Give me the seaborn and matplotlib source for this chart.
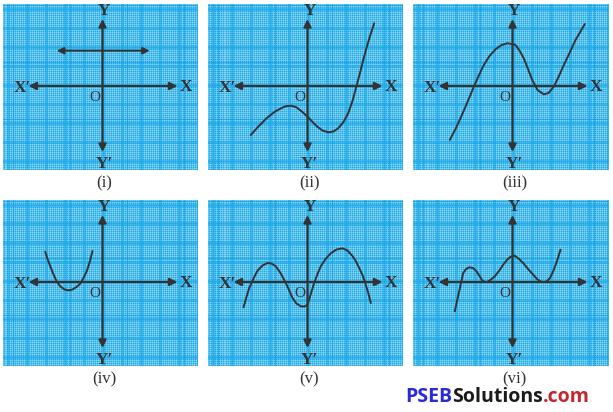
import numpy as np
import matplotlib
matplotlib.use("Agg")
import matplotlib.pyplot as plt
import seaborn as sns

# curve points (units: 10 px, origin where the axes cross)
ii_x = [-5.67, -4.93, -4.1, -3.27, -2.6, -2.1, -1.6, -1.1, -0.5, 0.0, 0.9, 1.5, 2.07, 2.6, 3.07, 3.6, 4.07, 4.5, 4.9, 5.25, 5.57, 5.9, 6.23, 6.67]
ii_y = [-4.9, -4.07, -3.23, -2.57, -2.2, -2.0, -1.98, -2.13, -2.6, -3.07, -4.0, -4.45, -4.63, -4.55, -4.23, -3.6, -2.73, -1.5, 0.0, 1.3, 2.6, 3.8, 4.93, 6.27]

iii_x = [-6.27, -5.7, -5.2, -4.5, -3.87, -3.3, -2.87, -2.3, -1.7, -1.1, -0.53, 0.0, 0.3, 0.7, 1.13, 1.55, 1.97, 2.5, 3.13, 3.6, 4.13, 4.6, 5.13, 5.7, 6.3, 7.23]
iii_y = [-5.4, -4.3, -3.23, -1.6, -0.07, 1.2, 2.1, 3.0, 3.67, 4.1, 4.27, 4.2, 4.1, 3.55, 2.77, 1.7, 0.6, -0.4, -0.83, -0.7, -0.07, 0.9, 2.1, 3.3, 4.6, 6.2]

iv_x = [-5.73, -5.5, -5.23, -4.9, -4.57, -4.2, -3.8, -3.4, -3.0, -2.6, -2.23, -1.9, -1.57, -1.25, -1.0]
iv_y = [3.03, 2.3, 1.6, 0.75, 0.03, -0.45, -0.75, -0.83, -0.75, -0.5, -0.17, 0.4, 1.1, 2.1, 3.1]

v_x = [-6.4, -6.1, -5.83, -5.4, -5.0, -4.5, -4.0, -3.6, -3.17, -2.7, -2.17, -1.8, -1.5, -1.1, -0.67, -0.3, 0.0, 0.3, 0.67, 1.0, 1.33, 1.8, 2.33, 2.9, 3.5, 4.0, 4.5, 4.85, 5.17, 5.5, 5.77, 6.05, 6.33]
v_y = [-2.53, -1.5, -0.6, 0.35, 1.13, 1.65, 1.9, 1.85, 1.57, 0.9, -0.1, -0.9, -1.6, -2.15, -2.43, -2.45, -2.27, -1.3, -0.1, 0.8, 1.57, 2.3, 2.87, 3.25, 3.37, 3.15, 2.6, 2.05, 1.4, 0.7, -0.1, -1.0, -2.1]

vi_x = [-5.77, -5.55, -5.33, -5.13, -4.93, -4.65, -4.33, -3.95, -3.6, -3.3, -3.0, -2.75, -2.53, -2.15, -1.77, -1.35, -0.93, -0.6, -0.27, 0.0, 0.23, 0.65, 1.07, 1.55, 2.07, 2.45, 2.8, 3.1, 3.4, 3.75, 4.07, 4.45, 4.8]
vi_y = [-2.93, -1.9, -0.93, 0.0, 0.9, 1.3, 1.47, 1.4, 1.07, 0.6, 0.13, 0.0, 0.0, 0.25, 0.57, 1.1, 1.73, 2.15, 2.47, 2.6, 2.63, 2.3, 1.9, 1.3, 0.73, 0.3, 0.05, 0.0, 0.05, 0.4, 1.07, 2.1, 3.23]

# horizontal line in (i)
i_x = [-4.57, 4.73]
i_y = [3.53, 3.53]

labels = ["(i)", "(ii)", "(iii)", "(iv)", "(v)", "(vi)"]
curves = [None, (ii_x, ii_y), (iii_x, iii_y), (iv_x, iv_y), (v_x, v_y), (vi_x, vi_y)]

W, H = 613, 412
# panel boxes in pixels: left, top, width, height
boxes = [(3, 4, 195, 166), (208, 4, 195, 166), (413, 4, 196, 166),
         (3, 200, 195, 166), (208, 200, 195, 166), (413, 200, 196, 166)]

ink = "#333333"
serif = ["Liberation Serif", "DejaVu Serif"]

sns.set_theme(style="white")
fig = plt.figure(figsize=(W / 100, H / 100), dpi=100)
fig.patch.set_facecolor("white")


def paper(ax):
    # cyan graph-paper look
    base = "#1aa9e8"
    ax.set_facecolor(base)
    fine = np.arange(-10, 10, 0.2)
    ax.vlines(fine, -9, 9, color="white", lw=0.5, alpha=0.42, zorder=0)
    ax.hlines(fine, -10, 10, color="white", lw=0.5, alpha=0.42, zorder=0)
    for b in np.arange(-9.6, 10, 1.9):
        ax.axvspan(b, b + 0.35, color=base, alpha=0.6, lw=0, zorder=0.5)
        ax.axhspan(b, b + 0.35, color=base, alpha=0.6, lw=0, zorder=0.5)
    for b in np.arange(-9.0, 10, 5.7):
        ax.axvline(b, color="#129fe0", lw=0.8, alpha=0.7, zorder=0.6)
        ax.axhline(b, color="#129fe0", lw=0.8, alpha=0.7, zorder=0.6)


def arrow(ax, x0, y0, x1, y1, lw=1.6, ms=11):
    ax.annotate("", xy=(x1, y1), xytext=(x0, y0),
                arrowprops=dict(arrowstyle="<|-|>", color=ink, lw=lw,
                                mutation_scale=ms, shrinkA=0, shrinkB=0),
                zorder=3)


for k, (l, t, w, h) in enumerate(boxes):
    ax = fig.add_axes([l / W, 1 - (t + h) / H, w / W, h / H])
    ox = 99.5
    oy = 82
    ax.set_xlim(-ox / 10, (w - ox) / 10)
    ax.set_ylim(-(h - oy) / 10, oy / 10)
    ax.set_xticks([])
    ax.set_yticks([])
    for s in ax.spines.values():
        s.set_visible(False)
    paper(ax)

    # axes with arrows
    arrow(ax, -7.4, 0, 7.5, 0)
    arrow(ax, 0, -6.6, 0, 6.7)
    ax.text(0.2, 7.5, "Y", ha="center", va="center", fontsize=12.5,
            fontweight="bold", family=serif, color=ink)
    ax.text(0.2, -7.75, "Y\u2032", ha="center", va="center", fontsize=12.5,
            fontweight="bold", family=serif, color=ink)
    ax.text(-8.0, -0.15, "X\u2032", ha="center", va="center", fontsize=12.5,
            fontweight="bold", family=serif, color=ink)
    ax.text(8.35, -0.1, "X", ha="center", va="center", fontsize=12.5,
            fontweight="bold", family=serif, color=ink)
    ax.text(-0.75, -1.15, "O", ha="center", va="center", fontsize=11,
            family=serif, color=ink)

    if k == 0:
        arrow(ax, i_x[0], i_y[0], i_x[1], i_y[1], lw=1.4, ms=10)
    else:
        cx, cy = curves[k]
        sns.lineplot(x=cx, y=cy, ax=ax, color=ink, lw=1.4, sort=False,
                     estimator=None, zorder=4)

    ax.text(0.2, -(h - oy) / 10 - 1.3, labels[k], ha="center", va="center",
            fontsize=12, family=serif, color=ink, clip_on=False)

# watermark
wm_y = 1 - 397 / H
wm_font = ["Open Sans", "DejaVu Sans"]
t1 = fig.text(405 / W, wm_y, "PSEB", fontsize=14, fontweight="bold",
              color="#2b2bd6", va="center", ha="left", family=wm_font)
fig.canvas.draw()
r = fig.canvas.get_renderer()
bb = t1.get_window_extent(r)
t2 = fig.text(bb.x1 / W, wm_y, "Solutions", fontsize=14, fontweight="bold",
              color="#1b1b1b", va="center", ha="left", family=wm_font)
bb2 = t2.get_window_extent(r)
fig.text(bb2.x1 / W, wm_y, ".com", fontsize=14, fontweight="bold",
         color="#c1272d", va="center", ha="left", family=wm_font)

fig.savefig("out.png", dpi=100)
